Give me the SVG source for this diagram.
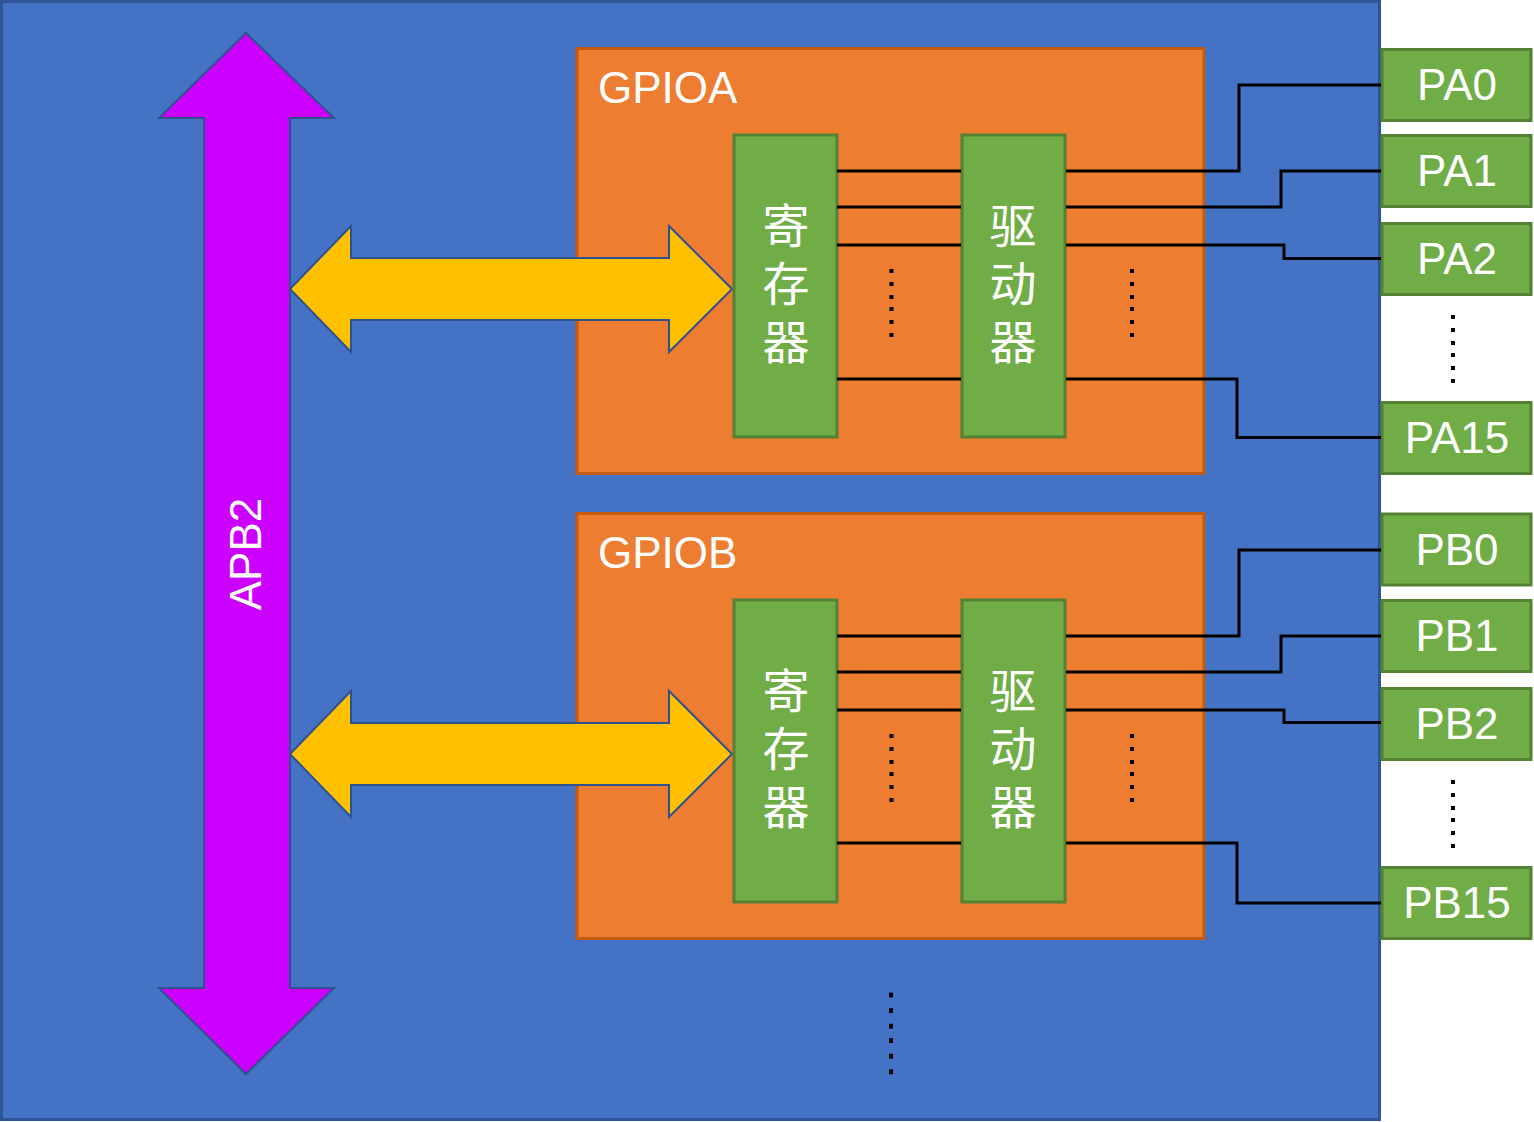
<svg xmlns="http://www.w3.org/2000/svg" width="1534" height="1122" viewBox="0 0 1534 1122">
<style>
.bg{fill:#4472C4;stroke:#2F5597;stroke-width:3}
.gpio{fill:#ED7D31;stroke:#C55A11;stroke-width:3}
.blk{fill:#70AD47;stroke:#548235;stroke-width:3}
.pin{fill:#70AD47;stroke:#548235;stroke-width:3}
.bus{fill:#CC00FF;stroke:#2F528F;stroke-width:2}
.yarr{fill:#FFC000;stroke:#2F528F;stroke-width:2}
.w{stroke:#000;stroke-width:3;fill:none}
.t{fill:#fff;font-family:"Liberation Sans","Noto Sans CJK SC",sans-serif;font-size:44px}
.tc{fill:#fff;font-family:"Noto Sans CJK SC",sans-serif;font-size:47px;writing-mode:vertical-rl;letter-spacing:11px}
.tp{text-anchor:middle}
.dot{fill:#000}
</style>
<defs>
<g id="dots6">
<rect x="-2" y="-2" width="4" height="4"/>
<rect x="-2" y="11" width="4" height="4"/>
<rect x="-2" y="24" width="4" height="4"/>
<rect x="-2" y="36" width="4" height="4"/>
<rect x="-2" y="49" width="4" height="4"/>
<rect x="-2" y="62" width="4" height="4"/>
</g>
</defs>
<g id="chip">
<rect class="bg" x="1.5" y="1.5" width="1378" height="1118"/>
</g>
<g id="apb2">
<polygon class="bus" points="246,33 334,118 290,118 290,988 334,988 246,1074 159,988 204,988 204,118 159,118"/>
<text class="t" text-anchor="middle" transform="translate(261,554) rotate(-90)">APB2</text>
</g>
<g id="gpioa">
<rect class="gpio" x="577" y="48.5" width="627" height="425"/>
<text class="t" x="598" y="103">GPIOA</text>
</g>
<g id="gpiob">
<rect class="gpio" x="577" y="513.5" width="627" height="425"/>
<text class="t" x="598" y="568">GPIOB</text>
</g>
<g id="bus-a">
<polygon class="yarr" points="290,289 351,226 351,258 669,258 669,226 732,289 669,352 669,320 351,320 351,352"/>
</g>
<g id="bus-b">
<polygon class="yarr" points="290,754 351,691 351,723 669,723 669,691 732,754 669,817 669,785 351,785 351,817"/>
</g>
<g id="reg-a">
<rect class="blk" x="734" y="135" width="103" height="302"/>
<text class="tc" x="786" y="202">寄存器</text>
</g>
<g id="drv-a">
<rect class="blk" x="962" y="135" width="103" height="302"/>
<text class="tc" x="1013" y="202">驱动器</text>
</g>
<g id="reg-b">
<rect class="blk" x="734" y="600" width="103" height="302"/>
<text class="tc" x="786" y="667">寄存器</text>
</g>
<g id="drv-b">
<rect class="blk" x="962" y="600" width="103" height="302"/>
<text class="tc" x="1013" y="667">驱动器</text>
</g>
<g id="pins">
<g id="pa0"><rect class="pin" x="1382" y="49.5" width="149" height="71"/><text class="t tp" x="1457" y="100">PA0</text></g>
<g id="pa1"><rect class="pin" x="1382" y="135.5" width="149" height="71"/><text class="t tp" x="1457" y="186">PA1</text></g>
<g id="pa2"><rect class="pin" x="1382" y="223.5" width="149" height="71"/><text class="t tp" x="1457" y="274">PA2</text></g>
<g id="pa15"><rect class="pin" x="1382" y="402.5" width="149" height="71"/><text class="t tp" x="1457" y="453">PA15</text></g>
<g id="pb0"><rect class="pin" x="1382" y="514" width="149" height="71"/><text class="t tp" x="1457" y="565">PB0</text></g>
<g id="pb1"><rect class="pin" x="1382" y="600.5" width="149" height="71"/><text class="t tp" x="1457" y="651">PB1</text></g>
<g id="pb2"><rect class="pin" x="1382" y="688.5" width="149" height="71"/><text class="t tp" x="1457" y="739">PB2</text></g>
<g id="pb15"><rect class="pin" x="1382" y="867.5" width="149" height="71"/><text class="t tp" x="1457" y="918">PB15</text></g>
</g>
<g id="connectors">
<path class="w" d="M837 171H961M837 207H961M837 245H961M837 379H961"/>
<path class="w" d="M1066 171H1239V85H1381M1066 207H1281V171H1381M1066 245H1284V258.5H1381M1066 379H1237V437.5H1381"/>
<path class="w" d="M837 636H961M837 672H961M837 710H961M837 843H961"/>
<path class="w" d="M1066 636H1239V550H1381M1066 672H1281V636H1381M1066 710H1284V722.5H1381M1066 843H1237V903H1381"/>
</g>
<g id="ellipses" class="dot">
<use href="#dots6" x="891.5" y="271"/>
<use href="#dots6" x="1132" y="271"/>
<use href="#dots6" x="1453" y="317"/>
<use href="#dots6" x="891.5" y="736"/>
<use href="#dots6" x="1132" y="736"/>
<use href="#dots6" x="1453" y="782"/>
<g transform="translate(891,995) scale(1,1.2)"><use href="#dots6"/></g>
</g>
</svg>
